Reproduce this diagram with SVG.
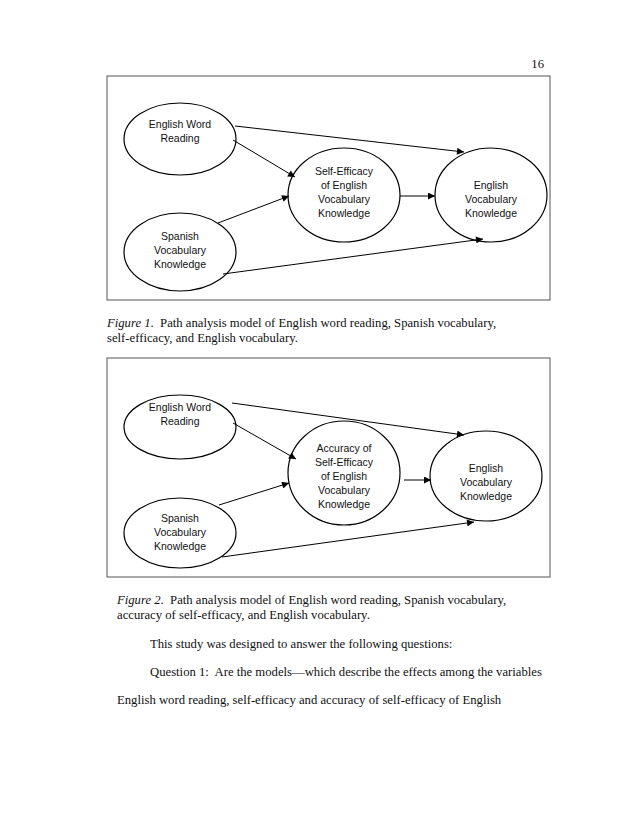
<svg xmlns="http://www.w3.org/2000/svg" width="638" height="826" viewBox="0 0 638 826">
<style>
.box{fill:none;stroke:#555;stroke-width:1}
.node{fill:#fff;stroke:#000;stroke-width:1.2}
.lbl{font-family:"Liberation Sans",Arial,sans-serif;font-size:10.5px;fill:#111;text-anchor:middle}
.edge{stroke:#000;stroke-width:1;fill:none;marker-end:url(#ah)}
.body{font-family:"Liberation Serif","Times New Roman",serif;font-size:12.7px;fill:#111;white-space:pre}
</style>
<defs>
<marker id="ah" viewBox="0 0 10 10" refX="10" refY="5" markerWidth="9" markerHeight="7" markerUnits="userSpaceOnUse" orient="auto">
<path d="M0,0L10,5L0,10z" fill="#000"/>
</marker>
</defs>
<rect width="638" height="826" fill="#fff"/>
<text class="body" x="544" y="68" text-anchor="end">16</text>

<rect class="box" x="107" y="76" width="443" height="224"/>
<g id="f1-nodes">
<g id="f1-ewr"><ellipse class="node" cx="180" cy="139" rx="56" ry="36"/>
<text class="lbl" x="180" y="128">English Word</text><text class="lbl" x="180" y="142">Reading</text></g>
<g id="f1-svk"><ellipse class="node" cx="180" cy="252" rx="56" ry="39"/>
<text class="lbl" x="180" y="240">Spanish</text><text class="lbl" x="180" y="254">Vocabulary</text><text class="lbl" x="180" y="268">Knowledge</text></g>
<g id="f1-se"><ellipse class="node" cx="344" cy="195" rx="56" ry="47"/>
<text class="lbl" x="344" y="175">Self-Efficacy</text><text class="lbl" x="344" y="189">of English</text><text class="lbl" x="344" y="203">Vocabulary</text><text class="lbl" x="344" y="217">Knowledge</text></g>
<g id="f1-evk"><ellipse class="node" cx="491" cy="195" rx="56" ry="47"/>
<text class="lbl" x="491" y="189">English</text><text class="lbl" x="491" y="203">Vocabulary</text><text class="lbl" x="491" y="217">Knowledge</text></g>
</g>
<g id="f1-edges">
<line class="edge" x1="235" y1="126" x2="464" y2="152"/>
<line class="edge" x1="233" y1="140" x2="295" y2="177"/>
<line class="edge" x1="218" y1="223" x2="289" y2="196"/>
<line class="edge" x1="400" y1="196" x2="435" y2="196"/>
<line class="edge" x1="223" y1="274" x2="483" y2="239"/>
</g>
<text class="body" x="107" y="327" xml:space="preserve"><tspan font-style="italic">Figure 1</tspan>.  Path analysis model of English word reading, Spanish vocabulary,</text>
<text class="body" x="107" y="342">self-efficacy, and English vocabulary.</text>

<rect class="box" x="107" y="358" width="443" height="219"/>
<g id="f2-nodes">
<g id="f2-ewr"><ellipse class="node" cx="180" cy="427" rx="56" ry="32"/>
<text class="lbl" x="180" y="411">English Word</text><text class="lbl" x="180" y="425">Reading</text></g>
<g id="f2-svk"><ellipse class="node" cx="180" cy="533" rx="56" ry="35"/>
<text class="lbl" x="180" y="522">Spanish</text><text class="lbl" x="180" y="536">Vocabulary</text><text class="lbl" x="180" y="550">Knowledge</text></g>
<g id="f2-acc"><ellipse class="node" cx="344" cy="473" rx="56" ry="52"/>
<text class="lbl" x="344" y="452">Accuracy of</text><text class="lbl" x="344" y="466">Self-Efficacy</text><text class="lbl" x="344" y="480">of English</text><text class="lbl" x="344" y="494">Vocabulary</text><text class="lbl" x="344" y="508">Knowledge</text></g>
<g id="f2-evk"><ellipse class="node" cx="486" cy="476" rx="56" ry="45"/>
<text class="lbl" x="486" y="472">English</text><text class="lbl" x="486" y="486">Vocabulary</text><text class="lbl" x="486" y="500">Knowledge</text></g>
</g>
<g id="f2-edges">
<line class="edge" x1="232" y1="403" x2="464" y2="435"/>
<line class="edge" x1="233" y1="423" x2="296" y2="459"/>
<line class="edge" x1="219" y1="505" x2="289" y2="483"/>
<line class="edge" x1="404" y1="480" x2="431" y2="480"/>
<line class="edge" x1="222" y1="557" x2="474" y2="522"/>
</g>
<text class="body" x="117" y="604" xml:space="preserve"><tspan font-style="italic">Figure 2</tspan>.  Path analysis model of English word reading, Spanish vocabulary,</text>
<text class="body" x="117" y="619">accuracy of self-efficacy, and English vocabulary.</text>
<text class="body" x="150" y="648">This study was designed to answer the following questions:</text>
<text class="body" x="150" y="676" xml:space="preserve">Question 1:  Are the models—which describe the effects among the variables</text>
<text class="body" x="117" y="704">English word reading, self-efficacy and accuracy of self-efficacy of English</text>
</svg>
